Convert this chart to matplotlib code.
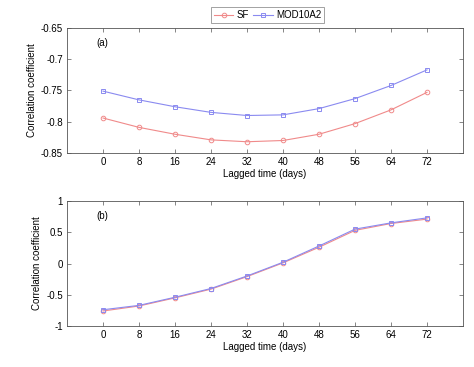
import matplotlib
matplotlib.use("Agg")
import matplotlib.pyplot as plt

lag = [0, 8, 16, 24, 32, 40, 48, 56, 64, 72]

# panel (a)
sf_a = [-0.794, -0.809, -0.820, -0.829, -0.832, -0.830, -0.820, -0.803, -0.781, -0.753]
mod_a = [-0.751, -0.765, -0.776, -0.785, -0.790, -0.789, -0.779, -0.763, -0.742, -0.717]

# panel (b)
sf_b = [-0.76, -0.68, -0.55, -0.41, -0.21, 0.01, 0.26, 0.53, 0.64, 0.71]
mod_b = [-0.74, -0.67, -0.54, -0.40, -0.20, 0.02, 0.28, 0.55, 0.65, 0.73]

SF_C = "#f08a8a"
MOD_C = "#8a8af0"

plt.rcParams.update({"font.family": ["Liberation Sans", "DejaVu Sans"],
                     "font.size": 7})

fig = plt.figure(figsize=(4.74, 3.67), dpi=100)
ax1 = fig.add_axes([67 / 474, 1 - 153 / 367, 396 / 474, 125 / 367])
ax2 = fig.add_axes([67 / 474, 1 - 326 / 367, 396 / 474, 125 / 367])


def draw(ax, sf, mod, ylim, yticks, tag):
    l1, = ax.plot(lag, sf, color=SF_C, lw=0.8, marker="o", ms=3.3,
                  mfc="none", mec=SF_C, mew=0.7, label="SF")
    l2, = ax.plot(lag, mod, color=MOD_C, lw=0.8, marker="s", ms=3.3,
                  mfc="none", mec=MOD_C, mew=0.7, label="MOD10A2")
    ax.set_xlim(-8, 80)
    ax.set_ylim(*ylim)
    ax.set_xticks(lag)
    ax.set_yticks(yticks)
    ax.set_yticklabels([f"{v:g}" for v in yticks])
    ax.tick_params(direction="in", top=True, right=True, length=3,
                   width=0.5, color="#555555", pad=3)
    for s in ax.spines.values():
        s.set_linewidth(0.6)
        s.set_color("#555555")
    ax.set_xlabel("Lagged time (days)", labelpad=1)
    ax.set_ylabel("Correlation coefficient", labelpad=3)
    ax.text(0.088, 0.88, tag, transform=ax.transAxes, ha="center", va="center")
    return l1, l2


h = draw(ax1, sf_a, mod_a, (-0.85, -0.65), [-0.85, -0.8, -0.75, -0.7, -0.65], "(a)")
draw(ax2, sf_b, mod_b, (-1, 1), [-1, -0.5, 0, 0.5, 1], "(b)")

leg = fig.legend(h, ["SF", "MOD10A2"], loc="center",
                 bbox_to_anchor=(267.5 / 474, 1 - 15 / 367),
                 ncol=2, frameon=True, fancybox=False, edgecolor="#777777",
                 handlelength=2.0, columnspacing=0.5, handletextpad=0.3,
                 borderpad=0.3, fontsize=7)
leg.get_frame().set_linewidth(0.6)

fig.savefig("out.png", dpi=100)
